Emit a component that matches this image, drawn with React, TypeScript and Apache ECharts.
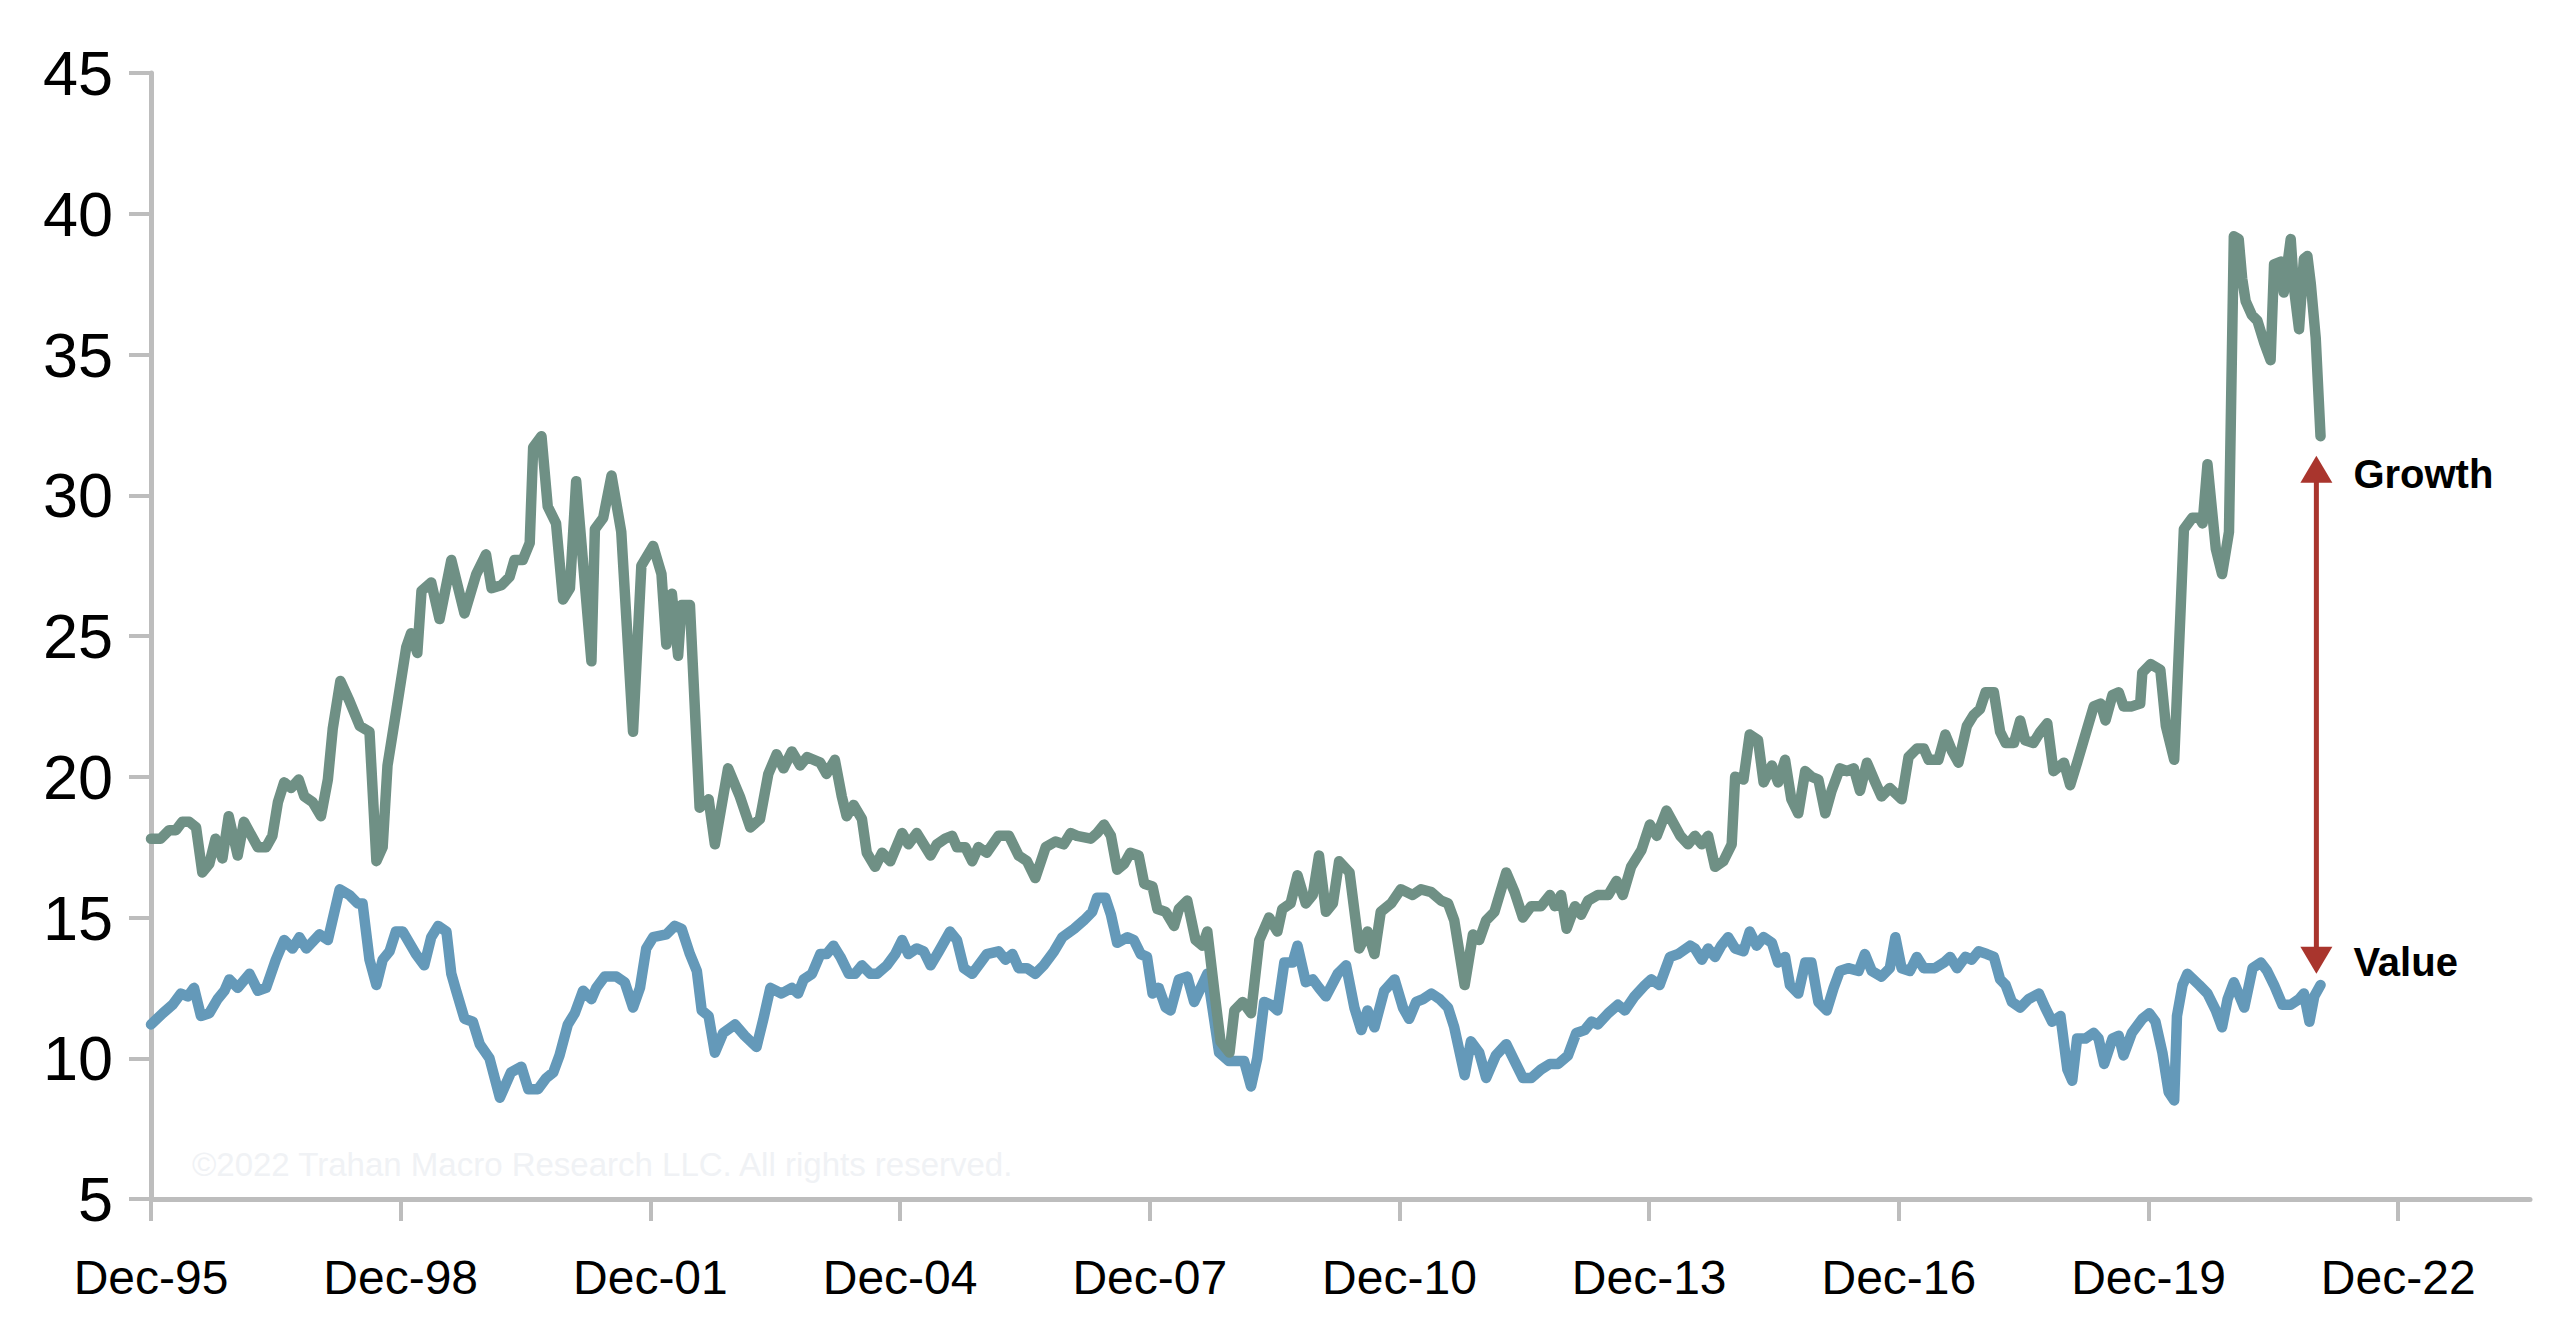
import React, { useEffect, useRef } from "react";
import * as echarts from "echarts";

// Forward P/E, monthly, as [months since Dec-1995, P/E]
const growthPE: [number, number][] = [
  [0, 17.8], [1.4, 17.8], [2.6, 18.1], [3.6, 18.1], [4.5, 18.4], [5.5, 18.4], [6.5, 18.2], [7.4, 16.6], [8.4, 16.9], [9.3, 17.8],
  [10.3, 17.1], [11.2, 18.6], [12.5, 17.2], [13.4, 18.4], [15.4, 17.5], [16.6, 17.5], [17.5, 17.9], [18.3, 19.1], [19.2, 19.8], [20.2, 19.6],
  [21.3, 19.9], [22.1, 19.3], [23.3, 19.1], [24.5, 18.6], [25.5, 19.9], [26.2, 21.7], [27.3, 23.4], [28.6, 22.7], [30.1, 21.8], [31.5, 21.6],
  [32.5, 17.0], [33.4, 17.5], [34.1, 20.4], [35.4, 22.4], [36.8, 24.6], [37.5, 25.1], [38.4, 24.4], [39.0, 26.6], [40.4, 26.9], [41.6, 25.6],
  [43.3, 27.7], [45.2, 25.8], [46.9, 27.2], [48.3, 27.9], [49.1, 26.7], [50.5, 26.8], [51.7, 27.1], [52.4, 27.7], [53.6, 27.7], [54.6, 28.3],
  [55.1, 31.7], [56.3, 32.1], [57.2, 29.6], [58.4, 29.0], [59.4, 26.3], [60.4, 26.7], [61.3, 30.5], [63.5, 24.1], [64.0, 28.8], [65.2, 29.2],
  [66.4, 30.7], [67.8, 28.7], [69.5, 21.6], [70.7, 27.5], [72.4, 28.2], [73.6, 27.2], [74.3, 24.7], [75.1, 26.5], [76.0, 24.3], [76.5, 26.1],
  [77.7, 26.1], [79.1, 18.9], [80.4, 19.2], [81.3, 17.6], [83.2, 20.3], [84.9, 19.3], [86.4, 18.2], [87.8, 18.5], [89.0, 20.1], [90.2, 20.8],
  [91.2, 20.3], [92.4, 20.9], [93.6, 20.4], [94.6, 20.7], [96.5, 20.5], [97.4, 20.1], [98.6, 20.6], [99.6, 19.3], [100.3, 18.6], [101.3, 19.0],
  [102.5, 18.5], [103.2, 17.3], [104.4, 16.8], [105.4, 17.3], [106.6, 17.0], [108.3, 18.0], [109.2, 17.6], [110.4, 18.0], [112.4, 17.2], [113.3, 17.6],
  [114.5, 17.8], [115.5, 17.9], [116.2, 17.5], [117.4, 17.5], [118.4, 17.0], [119.3, 17.5], [120.5, 17.3], [122.2, 17.9], [123.7, 17.9], [125.1, 17.2],
  [126.3, 17.0], [127.5, 16.4], [129.0, 17.5], [130.4, 17.7], [131.6, 17.6], [132.6, 18.0], [133.5, 17.9], [135.5, 17.8], [136.4, 18.0], [137.4, 18.3],
  [138.4, 17.9], [139.3, 16.7], [140.3, 16.9], [141.2, 17.3], [142.4, 17.2], [143.2, 16.2], [144.4, 16.1], [145.1, 15.3], [146.3, 15.2], [147.5, 14.7],
  [148.2, 15.3], [149.4, 15.6], [150.6, 14.2], [151.6, 14.0], [152.3, 14.5], [153.3, 12.4], [154.2, 10.6], [155.5, 10.2], [156.2, 11.7], [157.4, 12.0],
  [158.6, 11.6], [159.8, 14.2], [161.2, 15.0], [162.4, 14.5], [163.1, 15.3], [164.3, 15.5], [165.3, 16.5], [166.5, 15.5], [167.5, 15.8], [168.4, 17.2],
  [169.4, 15.2], [170.4, 15.5], [171.3, 17.0], [172.8, 16.6], [174.2, 13.9], [175.4, 14.5], [176.4, 13.7], [177.3, 15.2], [178.8, 15.5], [180.2, 16.0],
  [181.9, 15.8], [183.1, 16.0], [184.6, 15.9], [186.0, 15.6], [187.0, 15.5], [187.9, 14.9], [189.4, 12.6], [190.6, 14.4], [191.5, 14.2], [192.5, 14.9],
  [193.7, 15.2], [195.4, 16.6], [196.6, 15.9], [197.8, 15.0], [199.0, 15.4], [200.4, 15.4], [201.7, 15.8], [202.4, 15.4], [203.3, 15.8], [204.1, 14.6],
  [205.3, 15.4], [206.2, 15.1], [207.2, 15.6], [208.6, 15.8], [210.1, 15.8], [211.3, 16.3], [212.2, 15.8], [213.4, 16.8], [214.9, 17.4], [216.1, 18.3],
  [217.1, 17.9], [218.5, 18.8], [220.5, 17.9], [221.6, 17.6], [222.6, 17.9], [223.6, 17.6], [224.5, 17.9], [225.5, 16.8], [226.7, 17.0], [227.9, 17.6],
  [228.4, 20.0], [229.6, 19.9], [230.5, 21.5], [231.7, 21.3], [232.5, 19.8], [233.7, 20.4], [234.6, 19.8], [235.6, 20.6], [236.5, 19.2], [237.5, 18.7],
  [238.5, 20.2], [239.4, 20.0], [240.4, 19.9], [241.4, 18.7], [242.3, 19.5], [243.5, 20.3], [244.5, 20.2], [245.5, 20.3], [246.4, 19.5], [247.4, 20.5],
  [248.6, 19.8], [249.5, 19.3], [250.7, 19.6], [252.4, 19.2], [253.4, 20.7], [254.6, 21.0], [255.6, 21.0], [256.3, 20.6], [257.7, 20.6], [258.7, 21.5],
  [259.7, 20.9], [260.6, 20.5], [261.8, 21.8], [262.8, 22.2], [263.7, 22.4], [264.5, 23.0], [265.7, 23.0], [266.6, 21.6], [267.4, 21.2], [268.6, 21.2],
  [269.5, 22.0], [270.2, 21.3], [271.4, 21.2], [272.4, 21.6], [273.4, 21.9], [274.3, 20.2], [275.8, 20.5], [276.7, 19.7], [277.7, 20.5], [278.9, 21.5],
  [280.1, 22.5], [281.1, 22.6], [281.8, 22.0], [282.8, 22.9], [283.7, 23.0], [284.4, 22.5], [285.6, 22.5], [286.8, 22.6], [287.1, 23.7], [288.3, 24.0],
  [289.7, 23.8], [290.5, 21.8], [291.7, 20.6], [292.6, 25.8], [293.1, 28.8], [294.3, 29.2], [295.3, 29.2], [295.8, 29.0], [296.5, 31.1], [297.7, 28.1],
  [298.6, 27.2], [299.6, 28.7], [300.3, 39.2], [301.0, 39.1], [301.5, 37.7], [302.0, 36.9], [302.9, 36.4], [303.7, 36.2], [304.7, 35.4], [305.6, 34.8],
  [306.1, 38.2], [307.1, 38.3], [307.5, 37.2], [308.5, 39.1], [309.0, 37.3], [309.7, 35.9], [310.4, 38.4], [310.9, 38.5], [311.4, 37.5], [312.1, 35.6],
  [312.8, 32.1],
];

const valuePE: [number, number][] = [
  [0, 11.2], [1.7, 11.6], [3.1, 11.9], [4.3, 12.3], [5.3, 12.2], [6.2, 12.5], [7.2, 11.5], [8.4, 11.6], [9.6, 12.1], [10.6, 12.4],
  [11.3, 12.8], [12.5, 12.5], [14.2, 13.0], [15.4, 12.4], [16.6, 12.5], [18.0, 13.5], [19.2, 14.2], [20.4, 13.9], [21.4, 14.3], [22.4, 13.9],
  [24.3, 14.4], [25.5, 14.2], [27.2, 16.0], [28.6, 15.8], [29.8, 15.5], [30.5, 15.5], [31.5, 13.5], [32.5, 12.6], [33.4, 13.5], [34.4, 13.8],
  [35.3, 14.5], [36.3, 14.5], [38.2, 13.7], [39.4, 13.3], [40.4, 14.3], [41.4, 14.7], [42.6, 14.5], [43.3, 13.0], [44.0, 12.4], [45.2, 11.4],
  [46.4, 11.3], [47.4, 10.5], [48.8, 10.0], [50.3, 8.6], [51.9, 9.5], [53.4, 9.7], [54.4, 8.9], [55.8, 8.9], [57.0, 9.3], [58.0, 9.5],
  [58.9, 10.1], [60.1, 11.2], [61.1, 11.6], [62.3, 12.4], [63.5, 12.1], [64.2, 12.5], [65.4, 12.9], [67.1, 12.9], [68.3, 12.7], [69.5, 11.8],
  [70.5, 12.5], [71.4, 13.9], [72.4, 14.3], [74.3, 14.4], [75.5, 14.7], [76.5, 14.6], [77.7, 13.7], [78.7, 13.1], [79.4, 11.7], [80.4, 11.5],
  [81.3, 10.2], [82.5, 10.9], [84.2, 11.2], [85.6, 10.8], [87.3, 10.4], [88.3, 11.4], [89.3, 12.5], [90.9, 12.3], [92.4, 12.5], [93.3, 12.3],
  [94.1, 12.8], [95.3, 13.0], [96.5, 13.7], [97.4, 13.7], [98.4, 14.0], [99.4, 13.6], [100.6, 13.0], [101.5, 13.0], [102.5, 13.3], [103.7, 13.0],
  [104.7, 13.0], [106.1, 13.3], [107.3, 13.7], [108.3, 14.2], [109.2, 13.7], [110.4, 13.9], [111.4, 13.8], [112.4, 13.3], [113.6, 13.8], [115.2, 14.5],
  [116.2, 14.2], [117.2, 13.2], [118.4, 13.0], [119.6, 13.4], [120.5, 13.7], [122.2, 13.8], [123.2, 13.5], [124.2, 13.7], [125.1, 13.2], [126.3, 13.2],
  [127.5, 13.0], [128.7, 13.3], [130.2, 13.8], [131.4, 14.3], [133.1, 14.6], [134.5, 14.9], [135.7, 15.2], [136.4, 15.7], [137.6, 15.7], [138.4, 15.1],
  [139.3, 14.1], [140.8, 14.3], [141.7, 14.2], [142.7, 13.7], [143.6, 13.6], [144.4, 12.3], [145.3, 12.5], [146.3, 11.8], [147.0, 11.7], [148.2, 12.8],
  [149.4, 12.9], [150.4, 12.0], [152.3, 13.0], [154.0, 10.2], [155.4, 9.9], [156.6, 9.9], [157.6, 9.9], [158.6, 9.0], [159.5, 10.0], [160.5, 12.0],
  [161.5, 11.9], [162.4, 11.7], [163.4, 13.4], [164.6, 13.4], [165.3, 14.0], [166.5, 12.7], [167.5, 12.8], [168.4, 12.5], [169.4, 12.2], [171.1, 13.0],
  [172.3, 13.3], [173.5, 11.8], [174.5, 11.0], [175.4, 11.7], [176.4, 11.1], [177.8, 12.4], [179.3, 12.8], [180.5, 11.8], [181.4, 11.4], [182.4, 12.0],
  [183.4, 12.1], [184.6, 12.3], [185.8, 12.1], [187.0, 11.8], [187.9, 11.1], [189.4, 9.4], [190.3, 10.6], [191.5, 10.2], [192.5, 9.3], [193.9, 10.1],
  [195.4, 10.5], [196.6, 9.9], [197.8, 9.3], [199.0, 9.3], [200.4, 9.6], [201.7, 9.8], [202.9, 9.8], [204.3, 10.1], [205.5, 10.9], [206.7, 11.0],
  [207.7, 11.3], [208.6, 11.2], [210.1, 11.6], [211.5, 11.9], [212.5, 11.7], [213.9, 12.2], [215.4, 12.6], [216.3, 12.8], [217.5, 12.6], [219.0, 13.6],
  [220.2, 13.7], [221.9, 14.0], [222.6, 13.9], [223.6, 13.5], [224.5, 13.9], [225.5, 13.6], [226.4, 14.0], [227.4, 14.3], [228.4, 13.9], [229.6, 13.8],
  [230.5, 14.5], [231.5, 14.0], [232.5, 14.3], [233.7, 14.1], [234.6, 13.4], [235.6, 13.6], [236.3, 12.6], [237.5, 12.3], [238.5, 13.4], [239.4, 13.4],
  [240.4, 12.0], [241.6, 11.7], [242.6, 12.5], [243.5, 13.1], [244.7, 13.2], [246.2, 13.1], [247.1, 13.7], [248.1, 13.1], [249.5, 12.9], [250.7, 13.2],
  [251.5, 14.3], [252.4, 13.2], [253.6, 13.1], [254.6, 13.6], [255.6, 13.2], [257.2, 13.2], [258.5, 13.4], [259.4, 13.6], [260.4, 13.2], [261.6, 13.6],
  [262.5, 13.5], [263.5, 13.8], [264.7, 13.7], [265.7, 13.6], [266.6, 12.8], [267.4, 12.6], [268.3, 12.0], [269.5, 11.8], [270.7, 12.1], [272.2, 12.3],
  [273.1, 11.8], [274.1, 11.3], [275.3, 11.5], [276.3, 9.6], [277.0, 9.2], [277.7, 10.7], [278.9, 10.7], [280.1, 10.9], [280.8, 10.7], [281.6, 9.8],
  [282.8, 10.7], [283.7, 10.8], [284.4, 10.1], [285.6, 10.9], [287.1, 11.4], [288.1, 11.6], [289.0, 11.3], [290.0, 10.2], [290.9, 8.8], [291.7, 8.5],
  [292.1, 11.5], [292.9, 12.6], [293.6, 13.0], [295.3, 12.6], [296.5, 12.3], [297.7, 11.7], [298.6, 11.1], [299.4, 12.1], [300.3, 12.7], [301.8, 11.8],
  [303.0, 13.2], [304.2, 13.4], [305.1, 13.1], [306.1, 12.6], [307.3, 11.9], [308.5, 11.9], [309.7, 12.1], [310.4, 12.3], [311.2, 11.3], [311.9, 12.2],
  [312.8, 12.6],
];

// Axis ticks: every December, three years apart
const tickYears = [1995, 1998, 2001, 2004, 2007, 2010, 2013, 2016, 2019, 2022];
const startYear = 1995;
const axisEndMonth = 343;
const yTicks = { min: 5, max: 45, step: 5 };

// Spread annotation between the two end points
const spreadMonth = 312.2;
const spreadTop = 31.4;
const spreadBottom = 13.0;

const GROWTH_COLOR = "#6f9085";
const VALUE_COLOR = "#6499b9";
const ARROW_COLOR = "#a9352d";
const AXIS_COLOR = "#bdbdbd";

const tickMonths = tickYears.map((y) => (y - startYear) * 12);
const monthLabel = (m: number) => {
  const yr = Math.round(startYear + m / 12) % 100;
  return `Dec-${String(yr).padStart(2, "0")}`;
};

export default function App() {
  const ref = useRef<HTMLDivElement>(null);

  useEffect(() => {
    if (!ref.current) return;
    const chart = echarts.init(ref.current, null, { renderer: "svg" });

    chart.setOption({
      animation: false,
      backgroundColor: "#ffffff",
      grid: { left: 151, right: 30, top: 73, bottom: 122 },
      xAxis: {
        type: "value",
        min: 0,
        max: axisEndMonth,
        splitLine: { show: false },
        axisLine: { show: true, lineStyle: { color: AXIS_COLOR, width: 5 } },
        axisTick: {
          show: true,
          customValues: tickMonths,
          length: 22,
          inside: false,
          lineStyle: { color: AXIS_COLOR, width: 4 },
        },
        axisLabel: {
          customValues: tickMonths,
          formatter: (v: number) => monthLabel(v),
          color: "#000000",
          fontFamily: "Liberation Sans",
          fontSize: 48,
          margin: 54,
        },
      },
      yAxis: {
        type: "value",
        min: yTicks.min,
        max: yTicks.max,
        interval: yTicks.step,
        splitLine: { show: false },
        axisLine: { show: true, lineStyle: { color: AXIS_COLOR, width: 5 } },
        axisTick: { show: true, length: 22, inside: false, lineStyle: { color: AXIS_COLOR, width: 4 } },
        axisLabel: {
          color: "#000000",
          fontFamily: "Liberation Sans",
          fontSize: 63,
          margin: 38,
        },
      },
      series: [
        {
          name: "Value",
          type: "line",
          data: valuePE,
          showSymbol: false,
          symbol: "none",
          lineStyle: { color: VALUE_COLOR, width: 10.5, cap: "round", join: "round" },
          z: 2,
        },
        {
          name: "Growth",
          type: "line",
          data: growthPE,
          showSymbol: false,
          symbol: "none",
          lineStyle: { color: GROWTH_COLOR, width: 10.5, cap: "round", join: "round" },
          z: 3,
        },
      ],
    });

    const [ax, ayTop] = chart.convertToPixel({ gridIndex: 0 }, [spreadMonth, spreadTop]) as number[];
    const [, ayBot] = chart.convertToPixel({ gridIndex: 0 }, [spreadMonth, spreadBottom]) as number[];
    const headH = 27;
    const headW = 16;
    const labelFont = 'bold 40px "Liberation Sans"';

    chart.setOption({
      graphic: [
        {
          type: "text",
          left: 192,
          top: 1148,
          silent: true,
          z: 0,
          style: {
            text: "©2022 Trahan Macro Research LLC. All rights reserved.",
            font: '33px "Liberation Sans"',
            fill: "#f0f2f5",
          },
        },
        {
          type: "line",
          shape: { x1: ax, y1: ayTop + headH - 2, x2: ax, y2: ayBot - headH + 2 },
          style: { stroke: ARROW_COLOR, lineWidth: 5 },
          z: 10,
        },
        {
          type: "polygon",
          shape: { points: [[ax, ayTop], [ax - headW, ayTop + headH], [ax + headW, ayTop + headH]] },
          style: { fill: ARROW_COLOR },
          z: 10,
        },
        {
          type: "polygon",
          shape: { points: [[ax, ayBot], [ax - headW, ayBot - headH], [ax + headW, ayBot - headH]] },
          style: { fill: ARROW_COLOR },
          z: 10,
        },
        {
          type: "text",
          x: ax + 37,
          y: ayTop + 18,
          z: 10,
          style: { text: "Growth", font: labelFont, fill: "#000000", textVerticalAlign: "middle", verticalAlign: "middle" },
        },
        {
          type: "text",
          x: ax + 37,
          y: ayBot - 12,
          z: 10,
          style: { text: "Value", font: labelFont, fill: "#000000", textVerticalAlign: "middle", verticalAlign: "middle" },
        },
      ],
    });

    return () => chart.dispose();
  }, []);

  return (
    <div
      ref={ref}
      style={{ position: "absolute", left: 0, top: 0, width: 2560, height: 1321, background: "#ffffff" }}
    />
  );
}
